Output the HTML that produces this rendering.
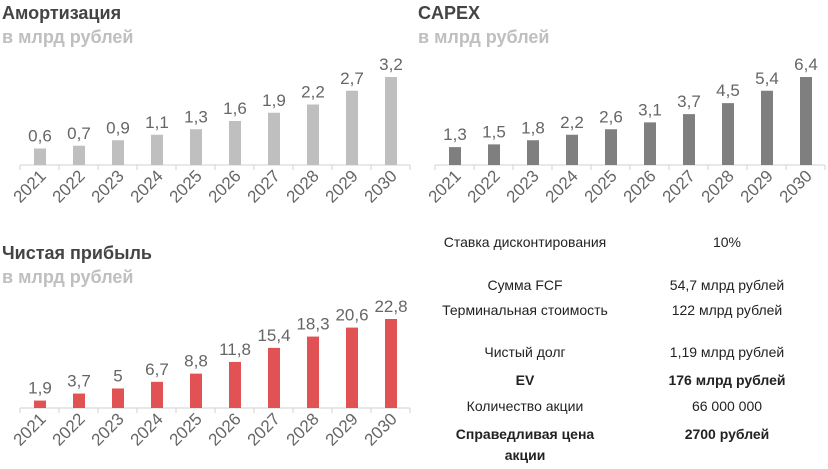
<!DOCTYPE html>
<html><head><meta charset="utf-8"><style>
body{margin:0;background:#fff;font-family:"Liberation Sans",sans-serif}
svg{display:block}
</style></head><body>
<svg width="828" height="469" xmlns="http://www.w3.org/2000/svg" font-family="Liberation Sans, sans-serif">
<g id="titles">
<text x="2" y="19" font-size="18" font-weight="bold" fill="#444">Амортизация</text>
<text x="2" y="43" font-size="18" font-weight="bold" fill="#bfbfbf">в млрд рублей</text>
<text x="418" y="19" font-size="18" font-weight="bold" fill="#444">CAPEX</text>
<text x="418" y="43" font-size="18" font-weight="bold" fill="#bfbfbf">в млрд рублей</text>
<text x="2" y="259" font-size="18" font-weight="bold" fill="#444">Чистая прибыль</text>
<text x="2" y="283" font-size="18" font-weight="bold" fill="#bfbfbf">в млрд рублей</text>
</g>
<g id="charts"></g>
<g id="table" font-size="14" fill="#222" text-anchor="middle">
<text x="525" y="247">Ставка дисконтирования</text>
<text x="727" y="247">10%</text>
<text x="525" y="290">Сумма FCF</text>
<text x="727" y="290">54,7 млрд рублей</text>
<text x="525" y="315">Терминальная стоимость</text>
<text x="727" y="315">122 млрд рублей</text>
<text x="525" y="357">Чистый долг</text>
<text x="727" y="357">1,19 млрд рублей</text>
<text x="525" y="385" font-weight="bold">EV</text>
<text x="727" y="385" font-weight="bold">176 млрд рублей</text>
<text x="525" y="411">Количество акции</text>
<text x="727" y="411">66 000 000</text>
<text x="525" y="439" font-weight="bold">Справедливая цена</text>
<text x="525" y="460" font-weight="bold">акции</text>
<text x="727" y="439" font-weight="bold">2700 рублей</text>
</g>
</svg>
<script>
const years = ["2021","2022","2023","2024","2025","2026","2027","2028","2029","2030"];
const amortValues = [0.6,0.7,0.9,1.1,1.3,1.6,1.9,2.2,2.7,3.2];
const amortLabels = ["0,6","0,7","0,9","1,1","1,3","1,6","1,9","2,2","2,7","3,2"];
const capexValues = [1.3,1.5,1.8,2.2,2.6,3.1,3.7,4.5,5.4,6.4];
const capexLabels = ["1,3","1,5","1,8","2,2","2,6","3,1","3,7","4,5","5,4","6,4"];
const profitValues = [1.9,3.7,5,6.7,8.8,11.8,15.4,18.3,20.6,22.8];
const profitLabels = ["1,9","3,7","5","6,7","8,8","11,8","15,4","18,3","20,6","22,8"];

const NS = "http://www.w3.org/2000/svg";
const root = document.getElementById('charts');
function mk(tag, attrs, parent){const e=document.createElementNS(NS,tag);for(const k in attrs)e.setAttribute(k,attrs[k]);parent.appendChild(e);return e;}

function chart(name, x0, base, maxVal, maxPx, values, labels, color){
  const g = mk('g',{},root);
  
  
  const step = 39;
  const xs = i => x0 + i*step;
  const ys = v => base - v/maxVal*maxPx;
  const ax = mk('line',{x1:x0-20,x2:x0+9*step+19,y1:base,y2:base,stroke:'#d0d0d0','stroke-width':1},g);
  
  
  for(let i=0;i<=10;i++){
    const t = mk('line',{x1:x0-20+i*step,x2:x0-20+i*step,y1:base,y2:base+5,stroke:'#d0d0d0'},g);
    
    
  }
  values.forEach((v,i)=>{
    const cx = xs(i), top = ys(v);
    const r = mk('rect',{x:cx-6,y:top,width:12,height:base-top,fill:color},g);
    
    
    const t = mk('text',{x:cx,y:top-7,'font-size':17,fill:'#666','text-anchor':'middle'},g);
    t.textContent = labels[i];
    
    
    const yl = mk('text',{x:cx+7,y:base+12,'font-size':17,fill:'#666','text-anchor':'end',transform:`rotate(-45 ${cx+7} ${base+12})`},g);
    yl.textContent = years[i];
    
    
  });
}
chart('amortization-chart', 40, 165, 3.2, 88, amortValues, amortLabels, '#bfbfbf');
chart('capex-chart', 455, 165, 6.4, 88, capexValues, capexLabels, '#7f7f7f');
chart('net-income-chart', 40, 408, 22.8, 89, profitValues, profitLabels, '#e05254');
</script>
</body></html>
